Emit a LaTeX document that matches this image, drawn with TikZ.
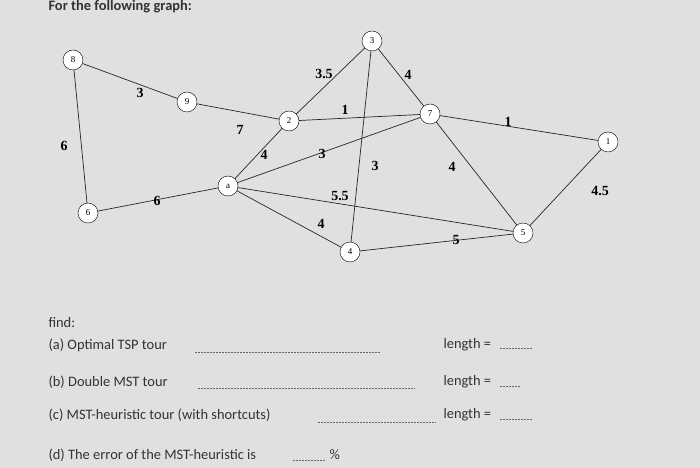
\documentclass[tikz,border=0pt]{standalone}
\usepackage{fontspec}
\setmainfont{Carlito}
\newfontfamily\gfont{Liberation Serif}
\begin{document}
\begin{tikzpicture}[x=1bp,y=-1bp,
  vtx/.style={circle,draw,fill=white,inner sep=0pt,minimum size=20bp,font=\gfont\small},
  edge/.style={draw=black!85,line width=0.7bp},
  wt/.style={font=\gfont\bfseries\fontsize{14}{14}\selectfont},
  txt/.style={anchor=west,font=\fontsize{14.5}{16}\selectfont,text=black!80},
  blank/.style={draw=black!60,dashed,dash pattern=on 2bp off 1bp,line width=0.6bp}]
\fill[black!12] (0,0) rectangle (700,468);
\clip (0,0) rectangle (700,468);
\node[txt,font=\bfseries\fontsize{14.5}{16}\selectfont] (title) at (45,7) {For the following graph:};
\node[vtx] (n8) at (73,60) {8};
\node[vtx] (n9) at (187,102) {9};
\node[vtx] (n2) at (289,121) {2};
\node[vtx] (n3) at (372,41) {3};
\node[vtx] (n7) at (430,114) {7};
\node[vtx] (n1) at (608,142) {1};
\node[vtx] (n5) at (523,233) {5};
\node[vtx] (n4) at (350,252) {4};
\node[vtx] (na) at (228,186) {a};
\node[vtx] (n6) at (88,213) {6};
\path[edge] (n8)--(n9) (n8)--(n6) (n6)--(na) (n9)--(n2) (na)--(n2) (n2)--(n3)
 (n2)--(n7) (n3)--(n7) (n3)--(n4) (na)--(n7) (na)--(n5) (na)--(n4) (n4)--(n5)
 (n7)--(n5) (n7)--(n1) (n1)--(n5);
\node[wt] (w1) at (140,93) {3};
\node[wt] (w2) at (64,146) {6};
\node[wt] (w3) at (157,201) {6};
\node[wt] (w4) at (240,130) {7};
\node[wt] (w5) at (264,155) {4};
\node[wt] (w6) at (324,74) {3.5};
\node[wt] (w7) at (345,110) {1};
\node[wt] (w8) at (408,75) {4};
\node[wt] (w9) at (322,154) {3};
\node[wt] (w10) at (375,166) {3};
\node[wt] (w11) at (340,196) {5.5};
\node[wt] (w12) at (321,224) {4};
\node[wt] (w13) at (456,240) {5};
\node[wt] (w14) at (452,167) {4};
\node[wt] (w15) at (508,122) {1};
\node[wt] (w16) at (600,191) {4.5};
\node[txt] (f) at (45,323) {find:};
\node[txt] (qa) at (45,345) {(a) Optimal TSP tour};
\node[txt] (la) at (440,345) {length =};
\node[txt] (qb) at (45,382) {(b) Double MST tour};
\node[txt] (lb) at (440,382) {length =};
\node[txt] (qc) at (45,415) {(c) MST-heuristic tour (with shortcuts)};
\node[txt] (lc) at (440,415) {length =};
\node[txt] (qd) at (45,455) {(d) The error of the MST-heuristic is};
\node[txt] (pc) at (326,455) {\%};
\coordinate (a1) at (195,352); \coordinate (a2) at (380,352);
\coordinate (a3) at (500,348); \coordinate (a4) at (533,348);
\coordinate (b1) at (198,388); \coordinate (b2) at (415,388);
\coordinate (b3) at (500,386); \coordinate (b4) at (520,386);
\coordinate (c1) at (318,422); \coordinate (c2) at (436,422);
\coordinate (c3) at (500,419); \coordinate (c4) at (533,419);
\coordinate (d1) at (293,460); \coordinate (d2) at (326,460);
\draw[blank] (a1)--(a2) (a3)--(a4) (b1)--(b2) (b3)--(b4) (c1)--(c2) (c3)--(c4) (d1)--(d2);
\end{tikzpicture}
\end{document}
